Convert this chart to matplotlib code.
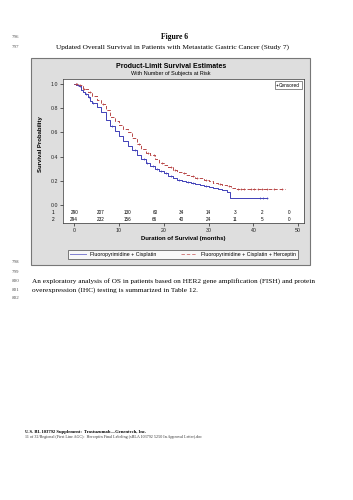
import matplotlib
matplotlib.use('Agg')
import matplotlib.pyplot as plt
from matplotlib.patches import Rectangle
from matplotlib.lines import Line2D

# Kaplan-Meier steps (months, survival)
fc_time = [0, 0.5, 1, 1.5, 2, 2.5, 3, 3.5, 4, 5, 6, 7, 8, 9, 10, 11, 12, 13, 14, 15,
           16, 17, 18, 19, 20, 21, 22, 23, 24, 25, 26, 27, 28, 29, 30, 31, 32, 33, 34, 34.8, 43]
fc_surv = [1.0, 0.99, 0.98, 0.95, 0.93, 0.92, 0.89, 0.86, 0.84, 0.81, 0.77, 0.70, 0.65, 0.61,
           0.57, 0.53, 0.49, 0.45, 0.41, 0.38, 0.35, 0.32, 0.30, 0.28, 0.26, 0.24, 0.225, 0.21,
           0.20, 0.19, 0.18, 0.17, 0.165, 0.155, 0.145, 0.14, 0.13, 0.12, 0.11, 0.055, 0.055]
fch_time = [0, 1, 2, 3, 4, 5, 6, 7, 8, 9, 10, 11, 12, 13, 14, 15, 16, 17, 18, 19, 20, 21,
            22, 23, 24, 25, 26, 27, 28, 29, 30, 31, 32, 33, 34, 35, 36, 47]
fch_surv = [1.0, 0.99, 0.96, 0.93, 0.90, 0.87, 0.83, 0.78, 0.73, 0.69, 0.66, 0.63, 0.60, 0.55,
            0.50, 0.46, 0.43, 0.41, 0.38, 0.35, 0.33, 0.31, 0.29, 0.27, 0.26, 0.245, 0.235,
            0.225, 0.22, 0.205, 0.195, 0.185, 0.175, 0.165, 0.155, 0.14, 0.13, 0.13]
fc_cens = [0.3, 0.8, 1.3, 2.6, 3.2, 4.2, 8.5, 13.5, 15.5, 16.2, 17.5, 18.5, 19.3, 20.5,
           21.5, 23.5, 25.5, 26.5, 29.5, 41.5, 42.2, 43]
fch_cens = [0.3, 0.7, 1.2, 2.2, 3.5, 6.5, 14.5, 16.5, 17.8, 19.5, 21.5, 22.5, 24.5, 26.5,
            27.5, 29.5, 32.5, 34.5, 36.5, 37.2, 38, 39.5, 40.2, 41, 42, 43, 44.5, 46.5]

risk_times = [0, 6, 12, 18, 24, 30, 36, 42, 48]
risk_fc = [290, 207, 130, 60, 34, 14, 3, 2, 0]
risk_fch = [294, 232, 156, 66, 40, 24, 11, 5, 0]

blue = '#4040b8'
red = '#b84848'
W, H = 353, 500


def step_at(times, surv, t):
    val = surv[0]
    for ti, si in zip(times, surv):
        if ti <= t:
            val = si
    return val


fig = plt.figure(figsize=(3.53, 5.0), dpi=100)
fig.patch.set_facecolor('white')

serif = 'Liberation Serif'
sans = 'Liberation Sans'


def fy(py):
    return 1 - py / H


# page text
fig.text(175 / W, fy(37), 'Figure 6', ha='center', va='center', fontsize=5.5,
         fontweight='bold', family=serif)
fig.text(172 / W, fy(47), 'Updated Overall Survival in Patients with Metastatic Gastric Cancer (Study 7)',
         ha='center', va='center', fontsize=5.3, family=serif)
for num, py in [('796', 37), ('797', 47), ('798', 262), ('799', 272),
                ('800', 281), ('801', 290), ('802', 298)]:
    fig.text(12 / W, fy(py), num, ha='left', va='center', fontsize=3.6, family=serif, color='#555555')
fig.text(32 / W, fy(281), 'An exploratory analysis of OS in patients based on HER2 gene amplification (FISH) and protein',
         ha='left', va='center', fontsize=5.2, family=serif)
fig.text(32 / W, fy(290), 'overexpression (IHC) testing is summarized in Table 12.',
         ha='left', va='center', fontsize=5.2, family=serif)
fig.text(25 / W, fy(432), 'U.S. BL 103792 Supplement:  Trastuzumab\u2014Genentech, Inc.',
         ha='left', va='center', fontsize=3.3, fontweight='bold', family=serif)
fig.text(25 / W, fy(437), '11 of 32/Regional (First Line AGC):  Herceptin Final Labeling (sBLA 103792 5250 In Approval Letter).doc',
         ha='left', va='center', fontsize=3.0, family=serif, color='#333333')

# gray chart panel
fig.patches.append(Rectangle((31 / W, fy(265)), (310 - 31) / W, (265 - 58) / H,
                             transform=fig.transFigure, facecolor='#dedede',
                             edgecolor='#777777', linewidth=0.8, zorder=-5))
fig.text(171 / W, fy(66), 'Product-Limit Survival Estimates', ha='center', va='center',
         fontsize=5, fontweight='bold', family=sans)
fig.text(171 / W, fy(73), 'With Number of Subjects at Risk', ha='center', va='center',
         fontsize=4, family=sans)

ax = fig.add_axes([63 / W, fy(223), (304 - 63) / W, (223 - 79) / H])
ax.set_zorder(2)
ax.set_facecolor('white')
ax.set_xlim(-2.5, 51.3)
ax.set_ylim(-0.149, 1.04)

ax.step(fc_time, fc_surv, where='post', color=blue, linewidth=0.7)
ax.step(fch_time, fch_surv, where='post', color=red, linewidth=0.7, dashes=(3.5, 2))
ax.plot(fc_cens, [step_at(fc_time, fc_surv, t) for t in fc_cens], '+', color=blue,
        markersize=2, markeredgewidth=0.5)
ax.plot(fch_cens, [step_at(fch_time, fch_surv, t) for t in fch_cens], '+', color=red,
        markersize=2, markeredgewidth=0.5)

# at-risk table inside the plot
for t, a, b in zip(risk_times, risk_fc, risk_fch):
    ax.text(t, -0.066, str(a), ha='center', va='center', fontsize=3.3, family=sans)
    ax.text(t, -0.124, str(b), ha='center', va='center', fontsize=3.3, family=sans)
ax.text(-0.035, -0.066, '1', transform=ax.get_yaxis_transform(), ha='right', va='center',
        fontsize=3.5, family=sans)
ax.text(-0.035, -0.124, '2', transform=ax.get_yaxis_transform(), ha='right', va='center',
        fontsize=3.5, family=sans)

ax.set_yticks([0, 0.2, 0.4, 0.6, 0.8, 1.0])
ax.set_yticklabels(['0.0', '0.2', '0.4', '0.6', '0.8', '1.0'])
ax.set_xticks([0, 10, 20, 30, 40, 50])
ax.tick_params(labelsize=3.8, length=2, width=0.5, pad=1.5, colors='#222222')
for lab in ax.get_xticklabels() + ax.get_yticklabels():
    lab.set_family(sans)
for sp in ax.spines.values():
    sp.set_linewidth(0.5)
    sp.set_color('#333333')

ax.set_xlabel('Duration of Survival (months)', fontsize=4.3, fontweight='bold', family=sans,
              labelpad=2)
ax.set_ylabel('Survival Probability', fontsize=4.3, fontweight='bold', family=sans)
ax.yaxis.set_label_coords(-0.085, (0.5 + 0.149) / 1.189)

cens = ax.legend([Line2D([], [], color='#333333', marker='+', linestyle='none', markersize=2,
                         markeredgewidth=0.5)], ['Censored'], loc='upper right',
                 fontsize=3.4, frameon=True, fancybox=False, handlelength=0.5,
                 handletextpad=0.2, borderpad=0.3, borderaxespad=0.5)
cens.get_frame().set_linewidth(0.5)
cens.get_frame().set_edgecolor('#333333')
for txt in cens.get_texts():
    txt.set_family(sans)

handles = [Line2D([], [], color='#8080d0', linewidth=0.7),
           Line2D([], [], color='#d08080', linewidth=0.7, dashes=(3.5, 2))]
leg = fig.legend(handles, ['Fluoropyrimidine + Cisplatin', 'Fluoropyrimidine + Cisplatin + Herceptin'],
                 loc='center', bbox_to_anchor=(68 / W, fy(262), 230 / W, 15 / H), mode='expand',
                 ncol=2, fontsize=3.8, frameon=True, fancybox=False, handlelength=3,
                 borderaxespad=0, columnspacing=1.5)
leg.get_frame().set_linewidth(0.6)
leg.get_frame().set_edgecolor('#444444')
for txt in leg.get_texts():
    txt.set_family(sans)

fig.savefig('out.png', dpi=100)
